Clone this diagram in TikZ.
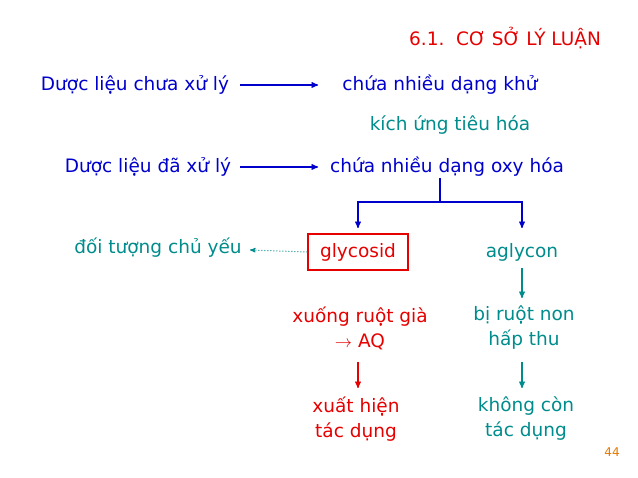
\documentclass[tikz,border=0pt]{standalone}
\usepackage{fontspec}
\setmainfont{DejaVu Sans}
\usetikzlibrary{arrows}
\definecolor{dblue}{RGB}{0,0,204}
\definecolor{dteal}{RGB}{0,140,140}
\definecolor{dred}{RGB}{230,0,0}
\definecolor{pgnum}{RGB}{230,120,0}
\tikzset{
  txt/.style={inner sep=0pt, font=\fontsize{18.5}{25}\selectfont, align=center},
  bl/.style={txt, text=dblue},
  tl/.style={txt, text=dteal},
  rd/.style={txt, text=dred},
  conn/.style={->, >=stealth', line width=1.3pt}
}
\begin{document}
\begin{tikzpicture}[x=1pt,y=-1pt]
    \useasboundingbox (0,0) rectangle (638,478);
    \node[rd] (title) at (505,38) {6.1.\ \ CƠ SỞ LÝ LUẬN};
    \node[bl] (raw) at (135,85) {Dược liệu chưa xử lý};
    \node[bl] (red) at (440,85) {chứa nhiều dạng khử};
    \node[tl] (irr) at (450,125) {kích ứng tiêu hóa};
    \node[bl] (proc) at (148,167) {Dược liệu đã xử lý};
    \node[bl] (oxy) at (447,167) {chứa nhiều dạng oxy hóa};
    \node[rd, draw=dred, line width=1.3pt, minimum width=100, minimum height=36] (gly) at (358,252) {glycosid};
    \node[tl] (agl) at (522,252) {aglycon};
    \node[tl] (main) at (158,248) {đối tượng chủ yếu};
    \node[rd] (colon) at (360,328) {xuống ruột già\\$\rightarrow$ AQ};
    \node[rd] (eff) at (356,419) {xuất hiện\\tác dụng};
    \node[tl] (abs) at (524,328) {bị ruột non\\hấp thu};
    \node[tl] (noeff) at (526,419) {không còn\\tác dụng};
    \node[txt, text=pgnum, font=\fontsize{12}{14}\selectfont] (pg) at (612,452) {44};
    \coordinate (split) at (440,202);
    \draw[conn, dblue] (240,85) -- (318,85);
    \draw[conn, dblue] (240,167) -- (318,167);
    \draw[dblue, line width=1.3pt] (440,178) -- (split);
    \draw[conn, dblue] (split) -| (358,228);
    \draw[conn, dblue] (split) -| (522,228);
    \draw[->, >=stealth', dotted, line width=1pt, dteal] (gly.west) -- (250,250);
    \draw[conn, dred] (358,362) -- (358,388);
    \draw[conn, dteal] (522,268) -- (522,298);
    \draw[conn, dteal] (522,362) -- (522,388);
\end{tikzpicture}
\end{document}
